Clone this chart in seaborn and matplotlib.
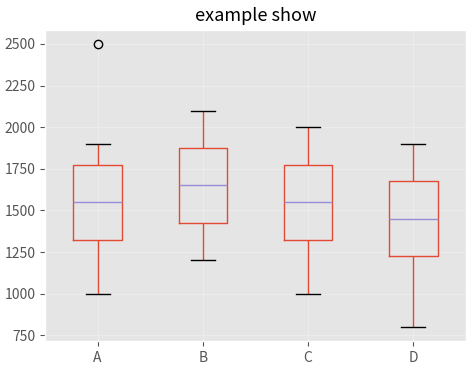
import matplotlib
matplotlib.use('Agg')
import matplotlib.pyplot as plt
import pandas as pd
import seaborn as sns

plt.style.use('ggplot')
plt.rcParams['font.family'] = ['Noto Sans CJK SC', 'DejaVu Sans']

# Sample values chosen so quartiles / whiskers match the picture
a_vals = [1000, 1100, 1325, 1400, 1550, 1700, 1775, 1900, 2500]
b_vals = [1200, 1425, 1650, 1875, 2100]
c_vals = [1000, 1325, 1550, 1775, 2000]
d_vals = [800, 1225, 1450, 1675, 1900]

df = pd.concat([
    pd.DataFrame({'col': 'A', 'value': a_vals}),
    pd.DataFrame({'col': 'B', 'value': b_vals}),
    pd.DataFrame({'col': 'C', 'value': c_vals}),
    pd.DataFrame({'col': 'D', 'value': d_vals}),
], ignore_index=True)

fig, ax = plt.subplots(figsize=(4.74, 3.72), dpi=100)

sns.boxplot(
    data=df, x='col', y='value', ax=ax, fill=False, width=0.46,
    color='#E24A33', linewidth=1.0,
    boxprops={'color': '#E24A33'},
    whiskerprops={'color': '#E24A33'},
    capprops={'color': 'black'},
    medianprops={'color': '#988ED5'},
    flierprops={'marker': 'o', 'markerfacecolor': 'none',
                'markeredgecolor': 'black', 'markersize': 6},
    capwidths=0.23,
)

ax.set_title('example show', fontsize=13)
ax.set_xlabel('')
ax.set_ylabel('')
ax.set_yticks([750, 1000, 1250, 1500, 1750, 2000, 2250, 2500])
ax.set_ylim(715, 2585)
ax.set_xlim(-0.5, 3.5)
ax.grid(True, color='white', alpha=0.3)
ax.tick_params(colors='#555555', labelsize=10)

fig.subplots_adjust(left=0.095, right=0.983, top=0.92, bottom=0.083)
fig.savefig('out.png', dpi=100)
